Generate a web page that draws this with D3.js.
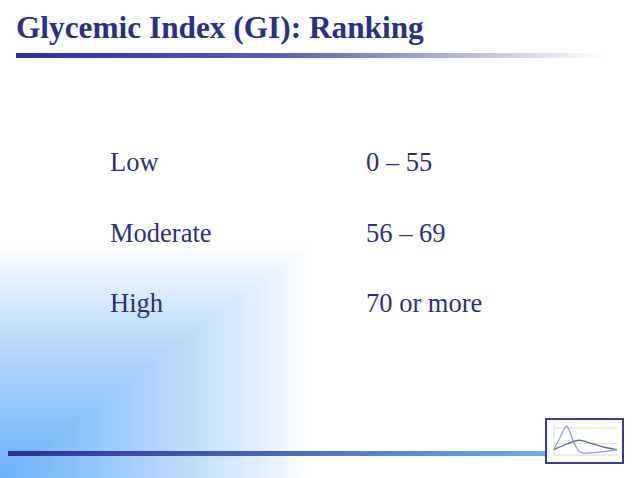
<!DOCTYPE html>
<html>
<head>
<meta charset="utf-8">
<script src="https://cdn.jsdelivr.net/npm/d3@7"></script>
<style>
  html, body { margin: 0; padding: 0; background: #fff; }
  svg { display: block; }
</style>
</head>
<body>
<div class="canvas"></div>
<script>
// Setting constants
const wWidth = 638
const wHeight = 478

// Slide content
const title = "Glycemic Index (GI): Ranking"
const categories = ["Low", "Moderate", "High"]
const ranges = ["0 – 55", "56 – 69", "70 or more"]

// Little chart icon (bottom right)
const iconSharp = [[0, 1.8], [1, 6], [2, 9.6], [3, 5], [4, 1.2], [5, 0.6], [7, 0.9], [10, 1.8]]
const iconBroad = [[0, 1.8], [2, 3.6], [4, 4.9], [6, 3.8], [8, 2.6], [10, 1.8]]
const iconGrid = [0, 3.8, 9]

const svg = d3.select('.canvas')
    .append('svg')
    .attr("width", wWidth)
    .attr("height", wHeight)

const defs = svg.append('defs')

// corner fade: blue at bottom-left going white to the right and to the top
const fadeStops = [[0, '#6cb2f6'], [0.45, '#a6d1fa'], [0.8, '#dcedfd'], [1, '#ffffff']]
const fadeBox = {x0: 0, x1: 313, y0: 244, y1: 478}

const hFade = defs.append('linearGradient').attr('id', 'hFade')
    .attr('x1', 0).attr('x2', 1).attr('y1', 0).attr('y2', 0)
const vFade = defs.append('linearGradient').attr('id', 'vFade')
    .attr('x1', 0).attr('x2', 0).attr('y1', 1).attr('y2', 0)
fadeStops.forEach(s => {
    hFade.append('stop').attr('offset', s[0]).attr('stop-color', s[1])
    vFade.append('stop').attr('offset', s[0]).attr('stop-color', s[1])
})

const fb = fadeBox
defs.append('clipPath').attr('id', 'lowerTri').append('path')
    .attr('d', `M${fb.x0},${fb.y1}L${fb.x1},${fb.y0}L${fb.x1},${fb.y1}Z`)

// vertical fade under everything, horizontal one on the lower-right half
svg.append('rect')
    .attr('x', fb.x0).attr('y', fb.y0)
    .attr('width', fb.x1 - fb.x0).attr('height', fb.y1 - fb.y0)
    .attr('fill', 'url(#vFade)')
svg.append('rect')
    .attr('x', fb.x0).attr('y', fb.y0)
    .attr('width', fb.x1 - fb.x0).attr('height', fb.y1 - fb.y0)
    .attr('fill', 'url(#hFade)')
    .attr('clip-path', 'url(#lowerTri)')

// title rule and bottom rule
const topRule = defs.append('linearGradient').attr('id', 'topRule')
topRule.append('stop').attr('offset', 0).attr('stop-color', '#2e3192')
topRule.append('stop').attr('offset', 0.45).attr('stop-color', '#5b5fae')
topRule.append('stop').attr('offset', 1).attr('stop-color', '#ffffff')

const botRule = defs.append('linearGradient').attr('id', 'botRule')
botRule.append('stop').attr('offset', 0).attr('stop-color', '#2e3192')
botRule.append('stop').attr('offset', 0.5).attr('stop-color', '#4a68c0')
botRule.append('stop').attr('offset', 1).attr('stop-color', '#6db0f2')

svg.append('text')
    .attr('x', 16)
    .attr('y', 38)
    .attr('font-family', '"Liberation Serif", "Times New Roman", serif')
    .attr('font-weight', 'bold')
    .attr('font-size', 31.3)
    .attr('fill', '#2b2f88')
    .text(title)

svg.append('rect')
    .attr('x', 16).attr('y', 53)
    .attr('width', 590).attr('height', 5)
    .attr('fill', 'url(#topRule)')

svg.append('rect')
    .attr('x', 8).attr('y', 451)
    .attr('width', 545).attr('height', 5)
    .attr('fill', 'url(#botRule)')

// Rows of the ranking table
const yScale = d3.scalePoint()
    .domain(categories)
    .range([171, 312])

const rows = svg.append('g')
    .attr('font-family', '"Liberation Serif", "Times New Roman", serif')
    .attr('font-size', 26.5)
    .attr('fill', '#2d2e7e')

rows.selectAll('text.cat')
    .data(categories)
    .enter()
    .append('text')
    .attr('class', 'cat')
    .attr('x', 110)
    .attr('y', d => yScale(d))
    .text(d => d)

rows.selectAll('text.range')
    .data(ranges)
    .enter()
    .append('text')
    .attr('class', 'range')
    .attr('x', 366)
    .attr('y', (d, i) => yScale(categories[i]))
    .text(d => d)

// Icon box
svg.append('rect')
    .attr('x', 546).attr('y', 419)
    .attr('width', 77).attr('height', 44)
    .attr('fill', '#fff')
    .attr('stroke', '#3a3a8e')
    .attr('stroke-width', 2)

const ix = d3.scaleLinear().domain([0, 10]).range([554, 617])
const iy = d3.scaleLinear().domain([0, 10]).range([455, 425])

const iconG = svg.append('g')
iconG.selectAll('line.grid')
    .data(iconGrid)
    .enter()
    .append('line')
    .attr('x1', ix(0)).attr('x2', ix(10))
    .attr('y1', d => iy(d)).attr('y2', d => iy(d))
    .attr('stroke', '#dcdcdc')
    .attr('stroke-width', 1)
iconG.append('line')
    .attr('x1', ix(0)).attr('x2', ix(0))
    .attr('y1', iy(0)).attr('y2', iy(10))
    .attr('stroke', '#dcdcdc')

const line = d3.line()
    .x(d => ix(d[0]))
    .y(d => iy(d[1]))
    .curve(d3.curveMonotoneX)

iconG.append('path')
    .attr('d', line(iconBroad))
    .attr('fill', 'none')
    .attr('stroke', '#5a6f9e')
    .attr('stroke-width', 1.4)
iconG.append('path')
    .attr('d', line(iconSharp))
    .attr('fill', 'none')
    .attr('stroke', '#8aa0c8')
    .attr('stroke-width', 1.2)
</script>
</body>
</html>
